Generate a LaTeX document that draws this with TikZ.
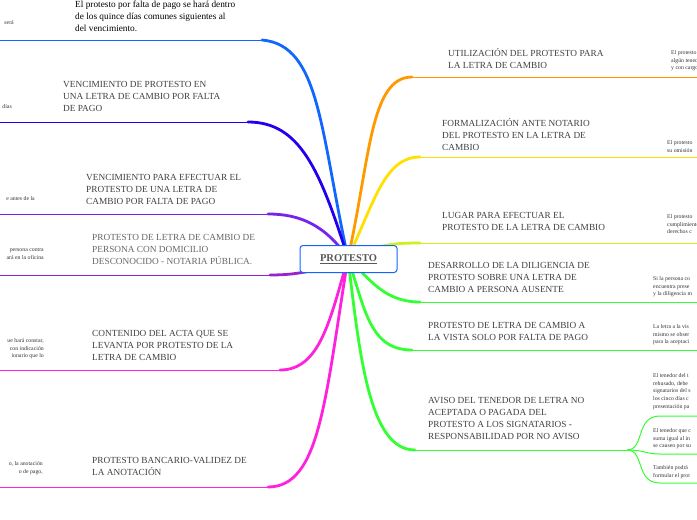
\documentclass[tikz,border=0pt]{standalone}
\usepackage{fontspec}
\setmainfont{Liberation Serif}
\begin{document}
\begin{tikzpicture}[x=1pt,y=-1pt,
  big/.style={anchor=north west,align=left,inner sep=0pt,text=black!75,font=\fontsize{9.3}{12}\selectfont},
  sml/.style={inner sep=0pt,align=left,text=black!80,font=\fontsize{5.8}{7.8}\selectfont},
  br/.style={line width=2.8pt,line cap=round},
  ul/.style={line width=1pt}]
\useasboundingbox (0,0) rectangle (697,520);
\clip (0,0) rectangle (697,520);
\definecolor{cBlue}{HTML}{1166FF}
\definecolor{cDBlue}{HTML}{2200EE}
\definecolor{cPurp}{HTML}{7722EE}
\definecolor{cPurp2}{HTML}{9922CC}
\definecolor{cMag}{HTML}{FF22DD}
\definecolor{cOr}{HTML}{FF9900}
\definecolor{cYel}{HTML}{FFE000}
\definecolor{cYG}{HTML}{CCF020}
\definecolor{cGr}{HTML}{33FF33}
\coordinate (c) at (348,258);
% left branches
\coordinate (l1) at (262,40);
\draw[br,cBlue] (c) .. controls (320,130) and (320,45) .. (l1);
\draw[ul,cBlue] (l1) -- (0,40);
\coordinate (l2) at (248,122);
\draw[br,cDBlue] (c) .. controls (320,170) and (300,122) .. (l2);
\draw[ul,cDBlue] (l2) -- (0,122);
\coordinate (l3) at (268,214);
\draw[br,cPurp] (c) .. controls (325,225) and (300,214) .. (l3);
\draw[ul,cPurp] (l3) -- (0,214);
\coordinate (l4) at (270,275);
\draw[br,cPurp2] (c) .. controls (320,270) and (300,275) .. (l4);
\draw[ul,cPurp2] (l4) -- (0,275);
\coordinate (l5) at (280,370);
\draw[br,cMag] (c) .. controls (330,320) and (320,370) .. (l5);
\draw[ul,cMag] (l5) -- (0,370);
\coordinate (l6) at (268,487);
\draw[br,cMag] (c) .. controls (325,400) and (320,487) .. (l6);
\draw[ul,cMag] (l6) -- (0,487);
% right branches
\coordinate (r1) at (412,77);
\draw[br,cOr] (c) .. controls (370,160) and (370,77) .. (r1);
\draw[ul,cOr] (r1) -- (697,77);
\coordinate (r2) at (420,157);
\draw[br,cYel] (c) .. controls (375,200) and (385,157) .. (r2);
\draw[ul,cYel] (r2) -- (697,157);
\coordinate (r3) at (420,243);
\draw[br,cYG] (c) .. controls (380,245) and (390,243) .. (r3);
\draw[ul,cYG] (r3) -- (697,243);
\coordinate (r4) at (420,302);
\draw[br,cGr] (c) .. controls (370,280) and (385,302) .. (r4);
\draw[ul,cGr] (r4) -- (697,302);
\coordinate (r5) at (412,350);
\draw[br,cGr] (c) .. controls (365,310) and (370,350) .. (r5);
\draw[ul,cGr] (r5) -- (697,350);
\coordinate (r6) at (415,450);
\coordinate (r6b) at (627,450);
\draw[br,cGr] (c) .. controls (360,360) and (370,450) .. (r6);
\draw[ul,cGr] (r6) -- (r6b);
\coordinate (s1) at (660,416);
\coordinate (s2) at (660,454);
\coordinate (s3) at (660,483);
\draw[ul,cGr] (r6b) .. controls (645,450) and (635,416) .. (s1) -- (697,416);
\draw[ul,cGr] (r6b) .. controls (645,450) and (645,454) .. (s2) -- (697,454);
\draw[ul,cGr] (r6b) .. controls (645,450) and (635,483) .. (s3) -- (697,483);
% center
\node[draw=cBlue,line width=1pt,rounded corners=3pt,fill=white,minimum width=97pt,minimum height=27pt,font=\bfseries\fontsize{10.5}{12}\selectfont,text=black!65] (p) at (348.5,259) {\underline{PROTESTO}};
% right main texts
\node[big] (t1) at (448,48) {UTILIZACIÓN DEL PROTESTO PARA\\LA LETRA DE CAMBIO};
\node[big] (t2) at (442,118) {FORMALIZACIÓN ANTE NOTARIO\\DEL PROTESTO EN LA LETRA DE\\CAMBIO};
\node[big] (t3) at (442,212) {LUGAR PARA EFECTUAR EL\\PROTESTO DE LA LETRA DE CAMBIO};
\node[big] (t4) at (428,262) {DESARROLLO DE LA DILIGENCIA DE\\PROTESTO SOBRE UNA LETRA DE\\CAMBIO A PERSONA AUSENTE};
\node[big] (t5) at (428,322) {PROTESTO DE LETRA DE CAMBIO A\\LA VISTA SOLO POR FALTA DE PAGO};
\node[big] (t6) at (428,397) {AVISO DEL TENEDOR DE LETRA NO\\ACEPTADA O PAGADA DEL\\PROTESTO A LOS SIGNATARIOS -\\RESPONSABILIDAD POR NO AVISO};
% left main texts
\node[big,text=black] (u1) at (75,1) {El protesto por falta de pago se hará dentro\\de los quince días comunes siguientes al\\del vencimiento.};
\node[big] (u2) at (63,81) {VENCIMIENTO DE PROTESTO EN\\UNA LETRA DE CAMBIO POR FALTA\\DE PAGO};
\node[big] (u3) at (86,174) {VENCIMIENTO PARA EFECTUAR EL\\PROTESTO DE UNA LETRA DE\\CAMBIO POR FALTA DE PAGO};
\node[big,text=black!60] (u4) at (92,234) {PROTESTO DE LETRA DE CAMBIO DE\\PERSONA CON DOMICILIO\\DESCONOCIDO - NOTARIA PÚBLICA.};
\node[big] (u5) at (92,330) {CONTENIDO DEL ACTA QUE SE\\LEVANTA POR PROTESTO DE LA\\LETRA DE CAMBIO};
\node[big] (u6) at (92,457) {PROTESTO BANCARIO-VALIDEZ DE\\LA ANOTACIÓN};
% right small texts
\node[sml,anchor=north west] (a1) at (671,50) {El protesto\\algún tenedor\\y con cargo};
\node[sml,anchor=north west] (a2) at (667,140) {El protesto\\su omisión};
\node[sml,anchor=north west] (a3) at (667,214) {El protesto\\cumplimiento\\derechos c};
\node[sml,anchor=north west] (a4) at (653,276) {Si la persona co\\encuentra prese\\y la diligencia m};
\node[sml,anchor=north west] (a5) at (653,324) {La letra a la vis\\mismo se obser\\para la aceptaci};
\node[sml,anchor=north west] (a6) at (653,373) {El tenedor del t\\rehusado, debe\\signatarios del s\\los cinco días c\\presentación pa};
\node[sml,anchor=north west] (a7) at (653,428) {El tenedor que c\\suma igual al in\\se causen por su};
\node[sml,anchor=north west] (a8) at (653,465) {También podrá\\formular el prot};
% left small texts
\node[sml,anchor=north east,align=right] (b1) at (14,20) {será};
\node[sml,anchor=north east,align=right] (b2) at (12,104) {días};
\node[sml,anchor=north east,align=right] (b3) at (35,196) {e antes de la};
\node[sml,anchor=north east,align=right] (b4) at (44,248) {persona contra\\ará en la oficina};
\node[sml,anchor=north east,align=right] (b5) at (44,338) {ue hará constar,\\con indicación\\ionario que lo};
\node[sml,anchor=north east,align=right] (b6) at (43,461) {o, la anotación\\o de pago,};
\end{tikzpicture}
\end{document}
